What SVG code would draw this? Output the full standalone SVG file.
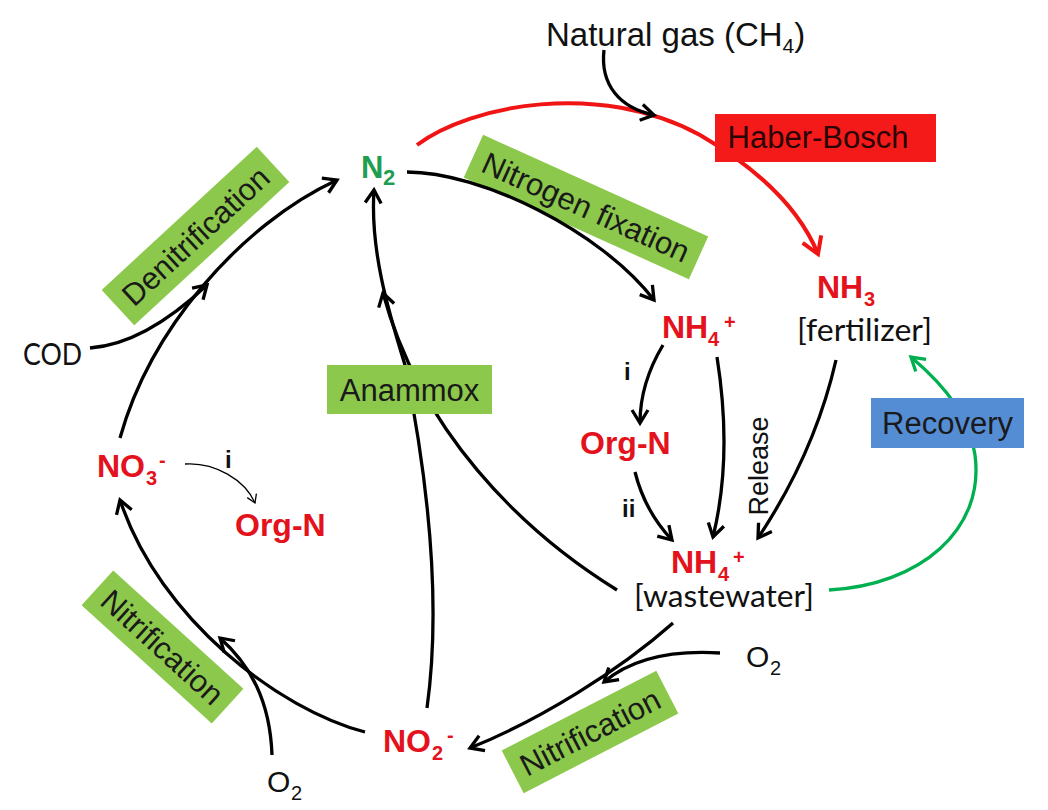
<svg xmlns="http://www.w3.org/2000/svg" width="1048" height="810" viewBox="0 0 1048 810">
<style>
.lbl{font-family:"Liberation Sans",Arial,sans-serif;font-size:31px;fill:#1a1a1a}
.red{font-family:"Liberation Sans",Arial,sans-serif;font-size:32px;font-weight:bold;fill:#E3121C}
.sub{font-size:20px}
.cal{font-family:Lato,"Open Sans",sans-serif;font-size:31px;fill:#111}
.blk{font-family:"Liberation Sans",Arial,sans-serif;fill:#111}
.gbox{fill:#8CC84B}
.ln{fill:none;stroke:#000;stroke-width:3.3}
</style>
<defs>
<marker id="ah" viewBox="-20 -12 24 24" refX="0" refY="0" markerWidth="24" markerHeight="24" markerUnits="userSpaceOnUse" orient="auto" overflow="visible"><path d="M-13,-8 L0,0 L-13,8" fill="none" stroke="#000" stroke-width="3.3"/></marker>
<marker id="ahr" viewBox="-20 -12 24 24" refX="0" refY="0" markerWidth="24" markerHeight="24" markerUnits="userSpaceOnUse" orient="auto" overflow="visible"><path d="M-16,-10 L0,0 L-16,10" fill="none" stroke="#F01414" stroke-width="4"/></marker>
<marker id="ahg" viewBox="-20 -12 24 24" refX="0" refY="0" markerWidth="24" markerHeight="24" markerUnits="userSpaceOnUse" orient="auto" overflow="visible"><path d="M-13,-8 L0,0 L-13,8" fill="none" stroke="#00B050" stroke-width="3.3"/></marker>
<marker id="aht" viewBox="-20 -12 24 24" refX="0" refY="0" markerWidth="24" markerHeight="24" markerUnits="userSpaceOnUse" orient="auto" overflow="visible"><path d="M-8,-5 L0,0 L-8,5" fill="none" stroke="#000" stroke-width="1.3"/></marker>
</defs>
<rect width="1048" height="810" fill="#fff"/>

<g id="box-denitrification" transform="translate(195.5,236) rotate(-42.7)">
<rect class="gbox" x="-105.5" y="-24" width="211" height="48"/>
<text class="lbl" x="0" y="11" text-anchor="middle">Denitrification</text>
</g>
<g id="box-nitrogen-fixation" transform="translate(586,207) rotate(24.3)">
<rect class="gbox" x="-123.5" y="-23.5" width="247" height="47"/>
<text class="lbl" x="0" y="11" text-anchor="middle">Nitrogen fixation</text>
</g>
<g id="box-nitrification-left" transform="translate(162.5,647) rotate(42.3)">
<rect class="gbox" x="-88" y="-23.5" width="176" height="47"/>
<text class="lbl" x="0" y="11" text-anchor="middle">Nitrification</text>
</g>
<g id="box-nitrification-bottom" transform="translate(590,732) rotate(-27.3)">
<rect class="gbox" x="-87" y="-24" width="174" height="48"/>
<text class="lbl" x="0" y="11" text-anchor="middle">Nitrification</text>
</g>

<g id="connectors">
<path class="ln" d="M407,172 C480,172 600,230 654,300" marker-end="url(#ah)"/>
<path d="M417,145 C470,105 600,80 700,135 C760,170 800,210 818,254" fill="none" stroke="#F01414" stroke-width="4" marker-end="url(#ahr)"/>
<path class="ln" d="M604,50 C600,85 620,108 654,115" marker-end="url(#ah)"/>
<path class="ln" d="M120,438 C150,330 240,225 337,180" marker-end="url(#ah)"/>
<path class="ln" d="M90,348 C130,345 170,320 207,285" marker-end="url(#ah)"/>
<path class="ln" d="M427,708 C442,600 428,480 405,365 C388,310 370,250 374,190" marker-end="url(#ah)"/>
<path class="ln" d="M617,590 C520,530 420,430 383,293" marker-end="url(#ah)"/>
<path class="ln" d="M365,732 C280,710 160,620 120,500" marker-end="url(#ah)"/>
<path class="ln" d="M272,755 C270,700 250,665 220,638" marker-end="url(#ah)"/>
<path d="M185,464 C215,462 245,480 255,503" fill="none" stroke="#000" stroke-width="1.3" marker-end="url(#aht)"/>
<path class="ln" d="M673,623 C620,670 540,720 470,748" marker-end="url(#ah)"/>
<path class="ln" d="M720,653 C670,650 630,660 604,682" marker-end="url(#ah)"/>
<path class="ln" d="M663,345 C648,370 640,395 640,423" marker-end="url(#ah)"/>
<path class="ln" d="M717,357 C727,420 727,480 713,537" marker-end="url(#ah)"/>
<path class="ln" d="M635,472 C642,500 655,522 672,540" marker-end="url(#ah)"/>
<path class="ln" d="M836,360 C820,430 790,490 758,538" marker-end="url(#ah)"/>
<path d="M829,590 C920,585 985,530 975,455 C970,420 950,390 911,357" fill="none" stroke="#00B050" stroke-width="3.3" marker-end="url(#ahg)"/>
</g>

<g id="box-anammox">
<rect class="gbox" x="327" y="365" width="165" height="49"/>
<text class="lbl" x="409.5" y="401" text-anchor="middle">Anammox</text>
</g>
<g id="box-haber-bosch">
<rect x="715" y="114" width="221" height="48" fill="#F41A1A"/>
<text class="lbl" x="818" y="148" text-anchor="middle" style="fill:#2a0505">Haber-Bosch</text>
</g>
<g id="box-recovery">
<rect x="871" y="398" width="153" height="50" fill="#548DD4"/>
<text class="lbl" x="947.5" y="434" text-anchor="middle">Recovery</text>
</g>

<g id="natural-gas">
<text class="blk" font-size="33" x="546" y="46">Natural gas (CH<tspan font-size="21" dy="7">4</tspan><tspan dy="-7">)</tspan></text>
</g>
<g id="n2">
<text font-family="Liberation Sans, Arial, sans-serif" font-weight="bold" font-size="31" fill="#1E9E50" x="361" y="178">N<tspan font-size="22" x="383" y="185">2</tspan></text>
</g>
<g id="nh4-top">
<text class="red" x="662" y="338">NH<tspan class="sub" x="708" y="346">4</tspan><tspan class="sub" x="724" y="329">+</tspan></text>
</g>
<g id="nh3">
<text class="red" x="817" y="298">NH<tspan class="sub" x="864" y="306">3</tspan></text>
<text class="cal" x="797" y="341" textLength="135" lengthAdjust="spacingAndGlyphs">[fertilizer]</text>
</g>
<g id="orgn-right">
<text class="red" x="580" y="454">Org-N</text>
</g>
<g id="nh4-wastewater">
<text class="red" x="671" y="573">NH<tspan class="sub" x="718" y="581">4</tspan><tspan class="sub" x="733" y="564">+</tspan></text>
<text class="cal" x="634" y="607" textLength="180" lengthAdjust="spacingAndGlyphs">[wastewater]</text>
</g>
<g id="no3">
<text class="red" x="97" y="477">NO<tspan class="sub" x="146" y="485">3</tspan><tspan class="sub" x="159" y="467">-</tspan></text>
</g>
<g id="orgn-left">
<text class="red" x="235" y="536">Org-N</text>
</g>
<g id="no2">
<text class="red" x="383" y="752">NO<tspan class="sub" x="432" y="760">2</tspan><tspan class="sub" x="447" y="742">-</tspan></text>
</g>
<g id="cod">
<text class="cal" x="23" y="365" textLength="59" lengthAdjust="spacingAndGlyphs">COD</text>
</g>
<g id="o2-bottom">
<text class="blk" font-size="30" x="267" y="792">O<tspan font-size="20" x="291" y="800">2</tspan></text>
</g>
<g id="o2-right">
<text class="blk" font-size="30" x="746" y="667">O<tspan font-size="20" x="770" y="675">2</tspan></text>
</g>
<g id="step-labels">
<text class="blk" font-size="24" font-weight="bold" x="624" y="380">i</text>
<text class="blk" font-size="24" font-weight="bold" x="622" y="517">ii</text>
<text class="blk" font-size="24" font-weight="bold" x="225" y="468">i</text>
<text class="blk" font-size="27" transform="translate(768,466) rotate(-90)" text-anchor="middle">Release</text>
</g>
</svg>
